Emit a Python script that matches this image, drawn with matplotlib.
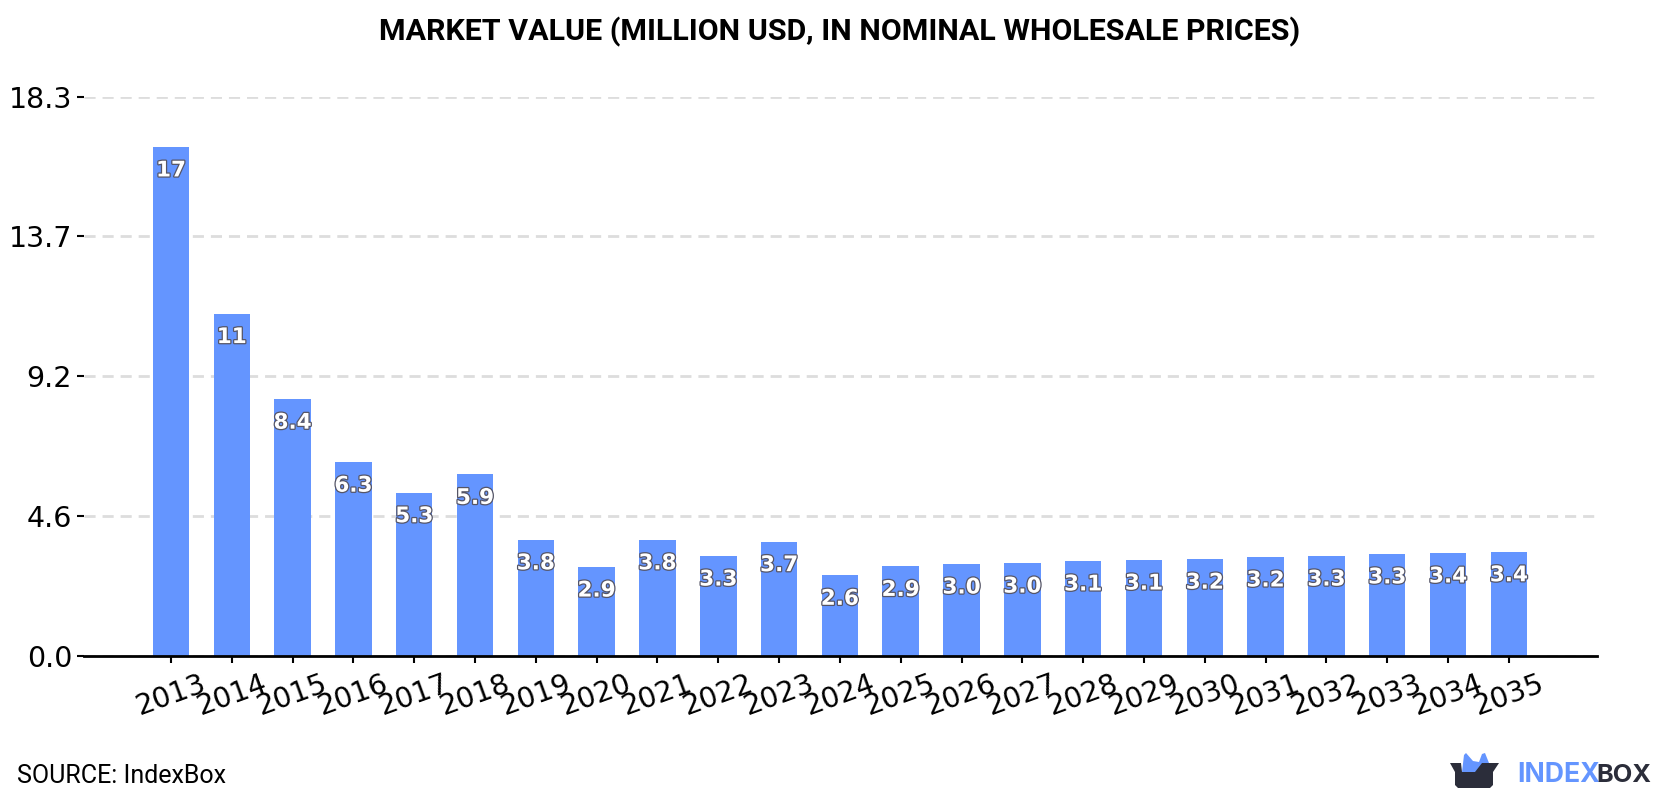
import matplotlib
matplotlib.use('Agg')
import matplotlib.pyplot as plt
import matplotlib.patheffects as pe
from matplotlib.patches import Polygon

years = list(range(2013, 2036))
values = [16.65, 11.2, 8.4, 6.34, 5.34, 5.94, 3.8, 2.91, 3.8, 3.27, 3.74, 2.64,
          2.93, 3.01, 3.04, 3.11, 3.14, 3.17, 3.24, 3.27, 3.34, 3.37, 3.41]
yticks = [0.0, 4.575, 9.15, 13.725, 18.3]
ytick_labels = ['0.0', '4.6', '9.2', '13.7', '18.3']

W, H = 1680, 800
BLUE = '#6495ff'
DARK = '#2b2d3a'

fig = plt.figure(figsize=(W / 100, H / 100), dpi=100)
ax = fig.add_axes([84 / W, 1 - 656 / H, (1597 - 84) / W, 559.5 / H])

ax.bar(years, values, width=0.6, color=BLUE, zorder=2)
ax.set_xlim(2013 - 1.43, 2013 + 23.45)
ax.set_ylim(0, 18.3)

ax.set_yticks(yticks, ytick_labels)
ax.set_xticks(years, [str(y) for y in years], rotation=20)
ax.tick_params(axis='both', labelsize=20.5, width=1.5, length=5, pad=5)
ax.tick_params(axis='y', pad=3.5)
ax.yaxis.grid(True, color='#dddddd', linestyle=(0, (4, 2.5)), linewidth=2, zorder=1)
ax.set_axisbelow(True)
for side in ['top', 'right', 'left']:
    ax.spines[side].set_visible(False)
ax.spines['bottom'].set_linewidth(2)

# value labels sit just under the top of each bar
for y, v in zip(years, values):
    txt = f'{v:.0f}' if v >= 10 else f'{v:.1f}'
    ax.annotate(txt, (y, v), xytext=(0, -23.5), textcoords='offset pixels', ha='center', va='center',
                fontsize=15.5, fontweight='bold', color='white', family='DejaVu Sans', zorder=4,
                path_effects=[pe.withStroke(linewidth=1.8, foreground='#555566')])

fig.text(0.5, 1 - 32 / H, 'MARKET VALUE (MILLION USD, IN NOMINAL WHOLESALE PRICES)', ha='center', va='center',
         family='Roboto', fontweight='bold', fontsize=21.9, color='black')
fig.text(17 / W, 1 - 776 / H, 'SOURCE: IndexBox', ha='left', va='center', family='Roboto', fontsize=18, color='black')

# logo: box with blue crown, then the wordmark
logo = fig.add_axes([0, 0, 1, 1], facecolor='none')
logo.set_xlim(0, W)
logo.set_ylim(H, 0)
logo.axis('off')
logo.add_patch(Polygon([(1462, 772), (1464, 755), (1466, 753), (1473, 761), (1479, 762), (1482, 754), (1485, 753), (1489, 763), (1483, 772)],
                       closed=True, color=BLUE, lw=0))
logo.add_patch(Polygon([(1450, 763), (1461, 763), (1462, 772), (1475, 772), (1482, 763), (1499, 763), (1493, 772), (1493, 785), (1490, 788),
                        (1458, 788), (1455, 785), (1455, 772)], closed=True, color=DARK, lw=0))
logo.text(1517, 775.5, 'INDEX', ha='left', va='center', family='Inter', fontweight='bold', fontsize=19.2, color=BLUE)
logo.text(1596.5, 775.5, 'BOX', ha='left', va='center', family='Inter', fontweight='bold', fontsize=18.3, color=DARK)

fig.savefig('out.png', dpi=100)
